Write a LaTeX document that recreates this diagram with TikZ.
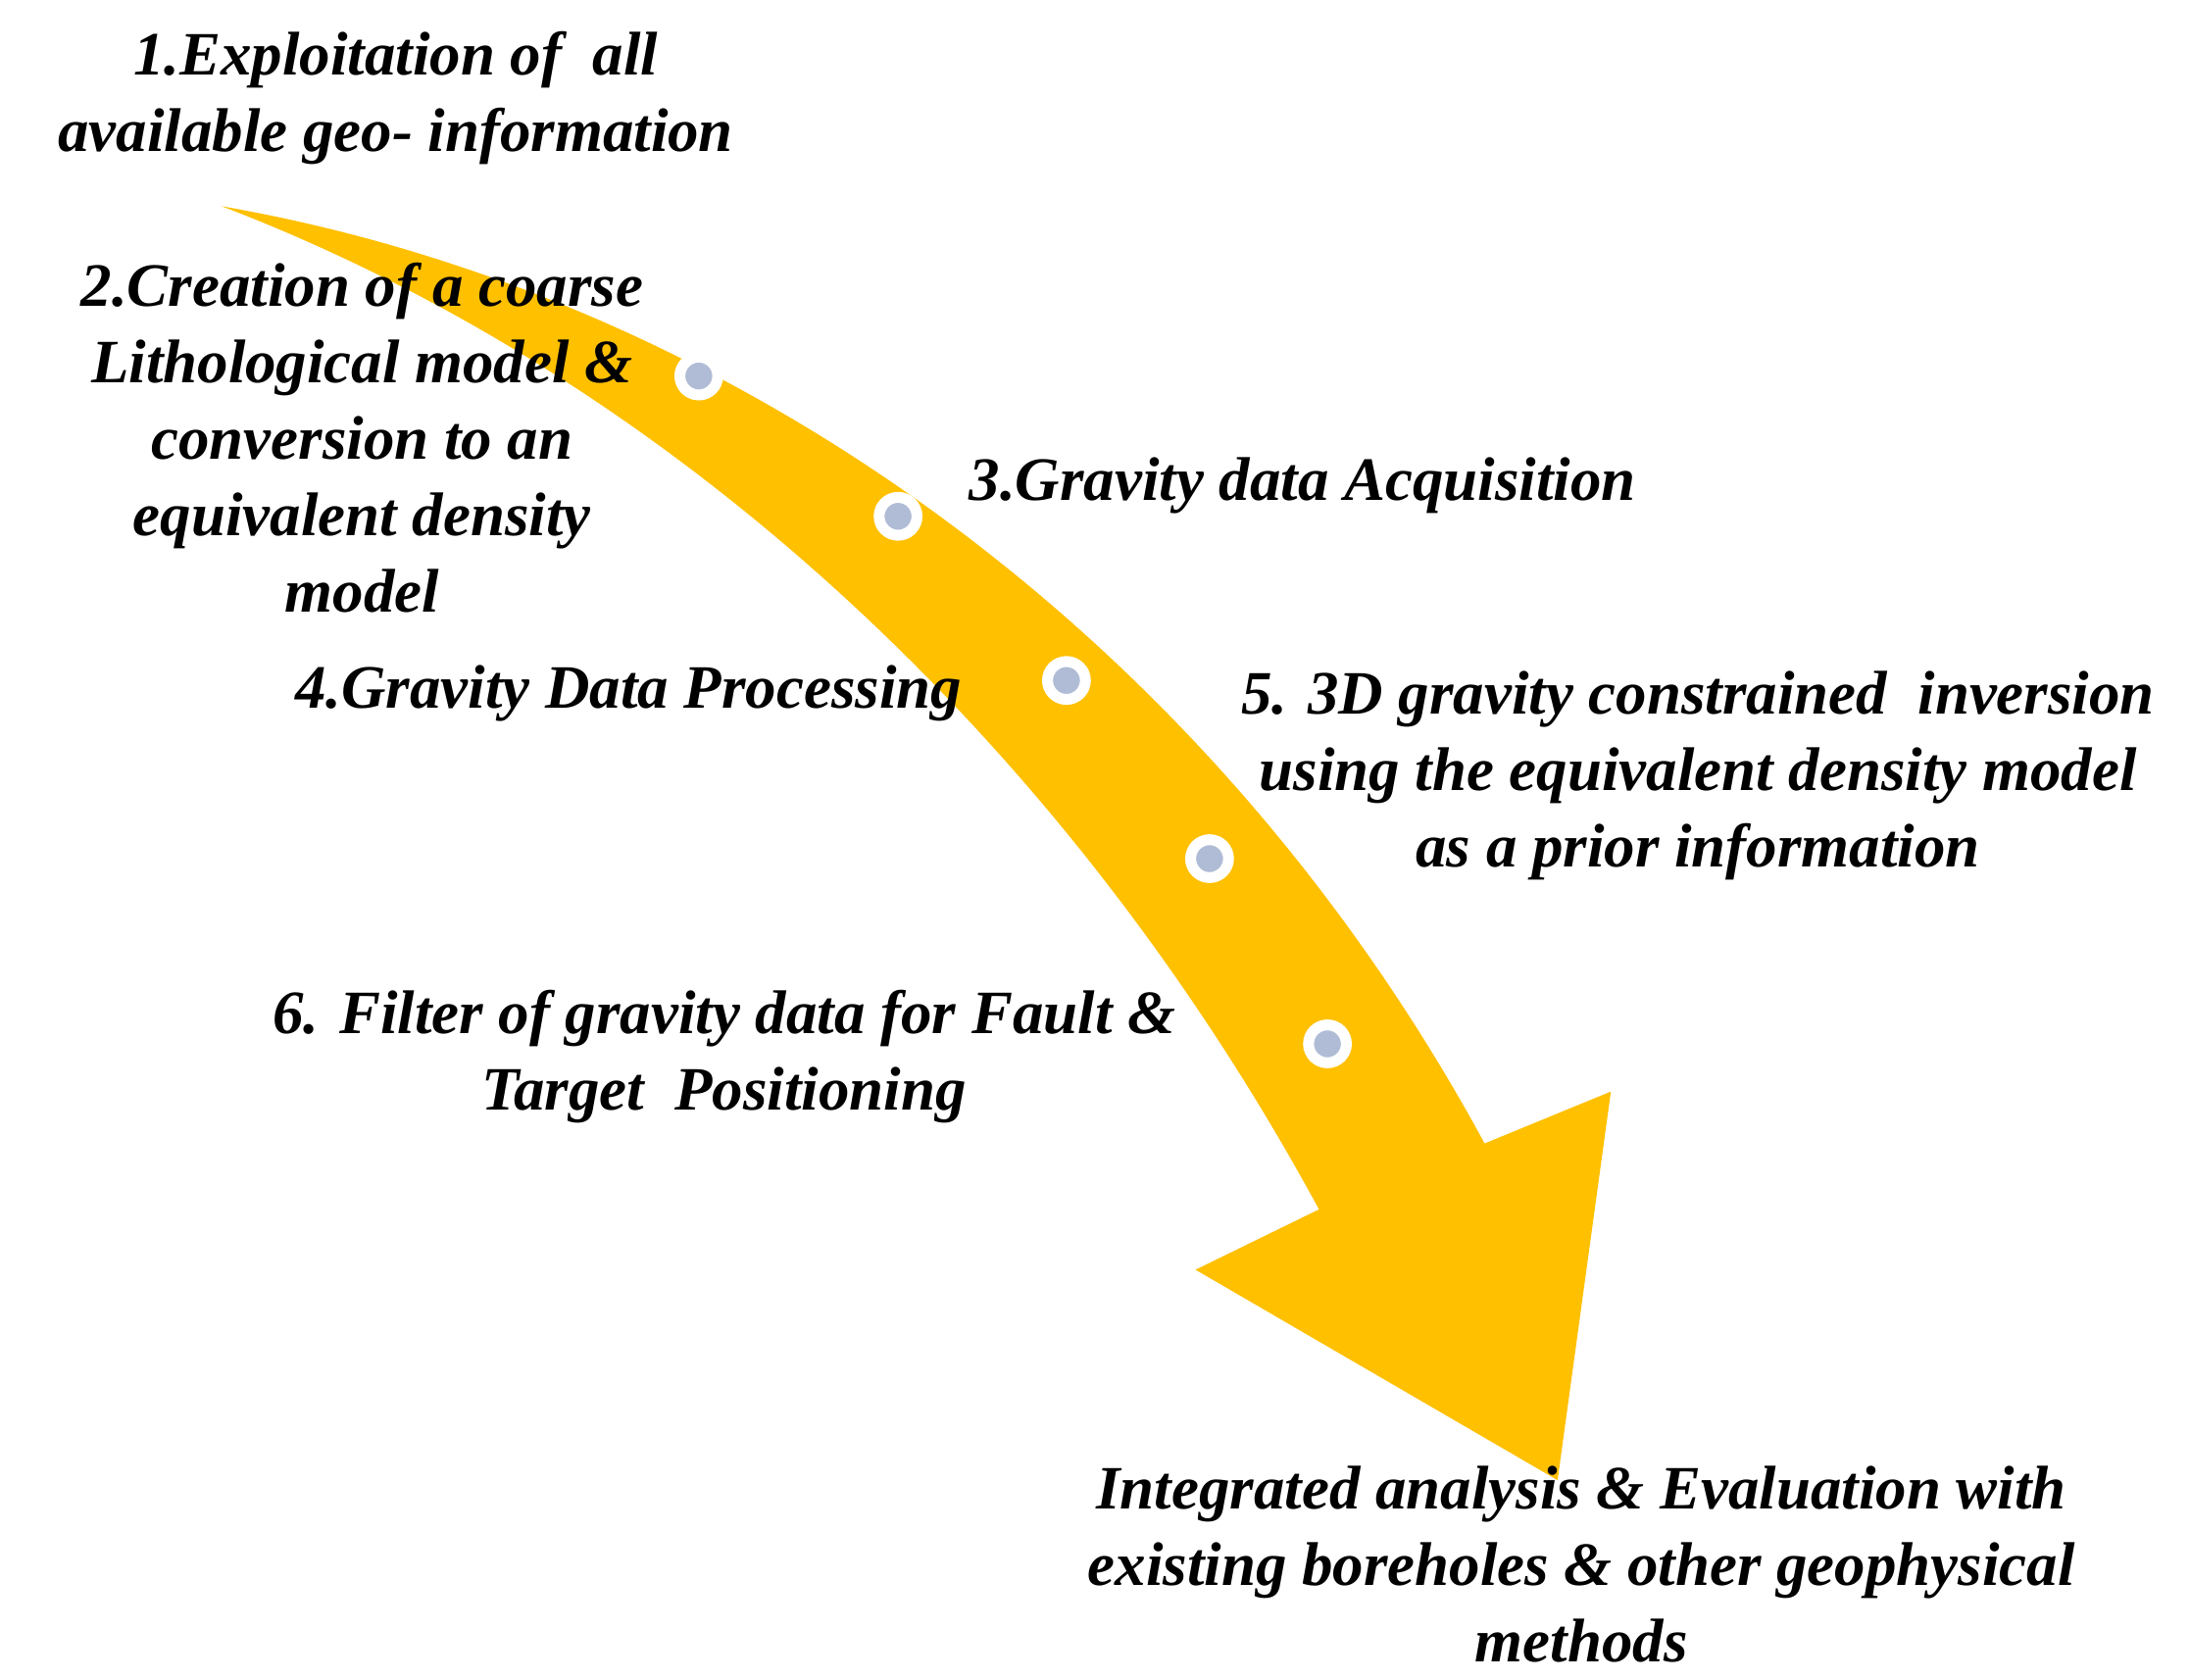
\documentclass[tikz,border=0pt]{standalone}
\usepackage{fontspec}
\setmainfont{Liberation Serif}
\begin{document}
\begin{tikzpicture}[x=0.01cm,y=-0.01cm,
  lbl/.style={font=\fontsize{12.5}{15.5}\selectfont\bfseries\itshape, align=center, inner sep=0pt},
  dot/.style={circle, fill={rgb,255:red,176;green,188;blue,214}, draw=white, line width=2.2pt, minimum size=0.27cm, inner sep=0pt}]
\useasboundingbox (0,0) rectangle (1560,1197);
\definecolor{arr}{RGB}{255,192,0}
\fill[arr] (158,147) .. controls (520,210) and (860,450) .. (1058,815)
  -- (1148,778) -- (1110,1055) -- (852,905) -- (940,862)
  .. controls (760,530) and (480,270) .. (158,147) -- cycle;
\node[dot] (d1) at (498,268) {};
\node[dot] (d2) at (640,368) {};
\node[dot] (d3) at (760,485) {};
\node[dot] (d4) at (862,612) {};
\node[dot] (d5) at (946,744) {};
\node[lbl] (t1) at (282,70) {1.Exploitation of\ \ all\\available geo- information};
\node[lbl] (t2) at (258,312) {2.Creation of a coarse\\Lithological model \&\\conversion to an\\equivalent density\\model};
\node[lbl,anchor=west] (t3) at (690,346) {3.Gravity data Acquisition};
\node[lbl,anchor=east] (t4) at (686,494) {4.Gravity Data Processing};
\node[lbl] (t5) at (1210,553) {5. 3D gravity constrained\ \ inversion\\using the equivalent density model\\as a prior information};
\node[lbl] (t6) at (516,753) {6. Filter of gravity data for Fault \&\\Target\ \ Positioning};
\node[lbl] (t7) at (1127,1115) {Integrated analysis \& Evaluation with\\existing boreholes \& other geophysical\\methods};
\end{tikzpicture}
\end{document}
